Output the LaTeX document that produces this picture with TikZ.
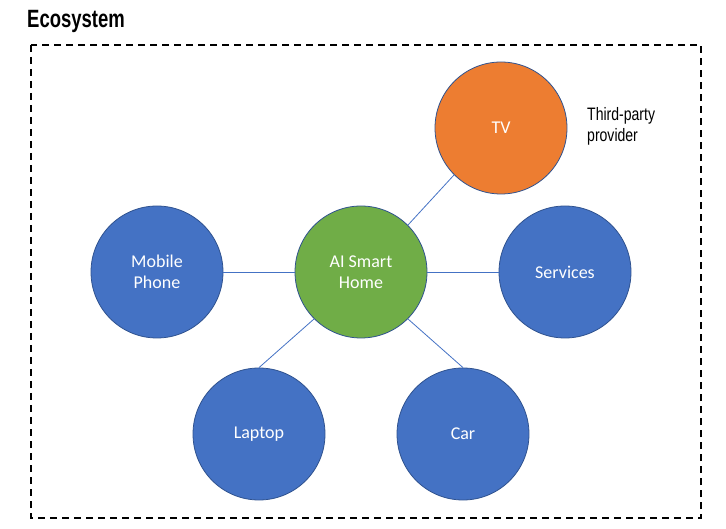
\documentclass[tikz,border=0pt]{standalone}
\usepackage{fontspec}
\setmainfont{Carlito}
\newfontfamily\condfont[FakeStretch=0.78]{Liberation Sans}
\newfontfamily\titlefont[FakeStretch=0.74]{Liberation Sans}
\definecolor{cblue}{RGB}{68,114,196}
\definecolor{corange}{RGB}{237,125,49}
\definecolor{cgreen}{RGB}{112,173,71}
\definecolor{cedge}{RGB}{47,82,143}
\begin{document}
\begin{tikzpicture}[x=1pt,y=-1pt,
  bubble/.style={circle,draw=cedge,line width=0.8pt,minimum size=132pt,inner sep=0pt,text=white,font=\fontsize{18}{21}\selectfont,align=center},
  link/.style={draw=cblue,line width=0.8pt},
  lbl/.style={font=\condfont\fontsize{18}{21}\selectfont,align=left,anchor=west,inner sep=0pt}]
\useasboundingbox (0,0) rectangle (726,529);
\draw[dashed,line width=1.6pt,dash pattern=on 7pt off 5pt] (31,45) rectangle (701,518);
\node[font=\titlefont\bfseries\fontsize{25}{27}\selectfont,anchor=west,inner sep=0pt] (title) at (27,21.5) {Ecosystem};
\node[bubble,fill=corange] (tv) at (501,128) {TV};
\node[bubble,fill=cgreen] (ai) at (361,272) {AI Smart\\Home};
\node[bubble,fill=cblue] (mp) at (157,272) {Mobile\\Phone};
\node[bubble,fill=cblue] (sv) at (565,272) {Services};
\node[bubble,fill=cblue] (lp) at (259,434) {Laptop};
\node[bubble,fill=cblue] (car) at (463,434) {Car};
\node[lbl] (tp) at (587,126) {Third-party\\provider};
\draw[link] (ai.45) -- (tv.225);
\draw[link] (ai.west) -- (mp.east);
\draw[link] (ai.east) -- (sv.west);
\draw[link] (ai.225) -- (lp.north);
\draw[link] (ai.315) -- (car.north);
\end{tikzpicture}
\end{document}
